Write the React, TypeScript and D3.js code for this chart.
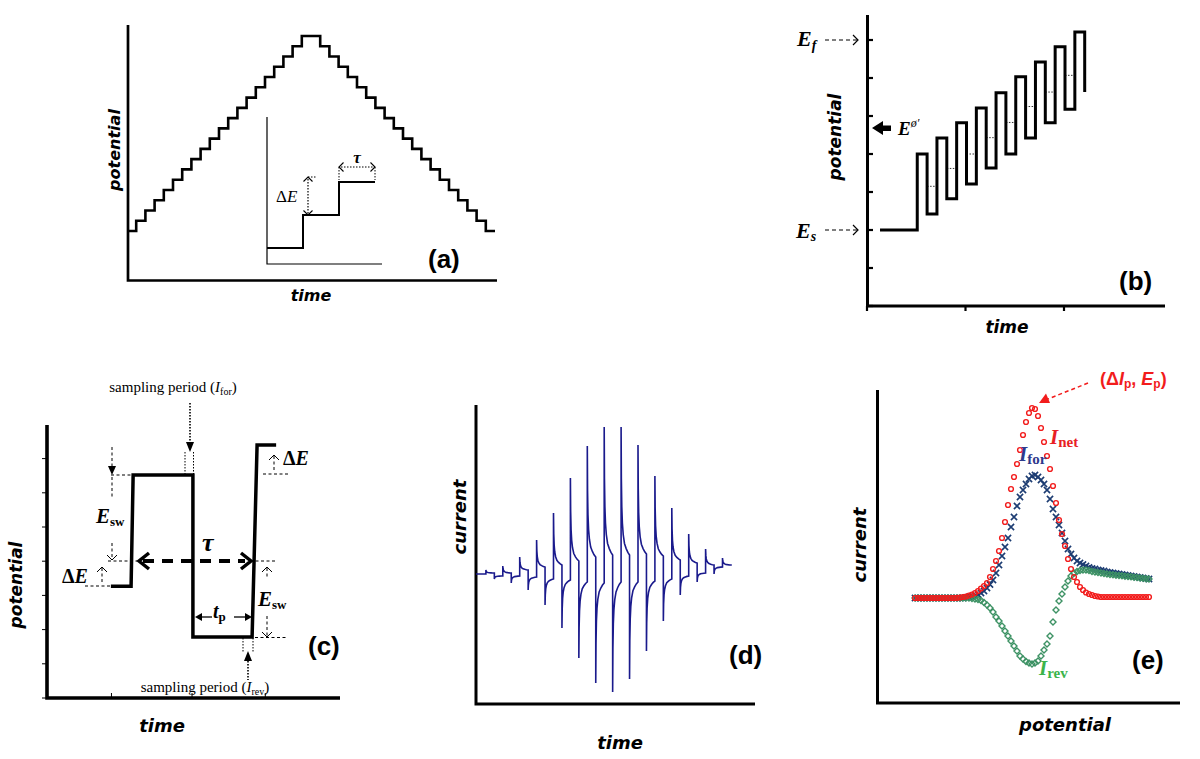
import React from "react";
import * as d3 from "d3";

// ---------------- (a) linear staircase ramp ----------------
const rampLevels = [0,1,2,3,4,5,6,7,8,9,10,11,12,13,14,15,16,17,18,19,19,18,17,16,15,14,13,12,11,10,9,8,7,6,5,4,3,2,1,0,0];
const insetLevels = [0, 1, 2, 2];

// ---------------- (b) square wave on a staircase ----------------
const bStartLevel = 2; // E_s
const bTops = [4.0, 4.42, 4.82, 5.21, 5.61, 6.03, 6.42, 6.82, 7.21];
const bBottoms = [2.42, 2.82, 3.21, 3.63, 4.0, 4.42, 4.82, 5.18, 5.63];
const bMids = [3.15, 3.62, 4.0, 4.43, 4.83, 5.25, 5.63, 6.07];
const bTicksY = [0, 1, 2, 3, 4, 5, 6, 7];
const bTicksX = [0, 10, 20];

// ---------------- (c) one square-wave cycle ----------------
const cWaveT = [2.18, 2.87, 2.94, 4.98, 4.98, 7.0, 7.17, 7.82];
const cWaveV = [3.27, 3.27, 6.52, 6.52, 1.78, 1.78, 7.4, 7.4];
const cTicksY = [0, 1, 2, 3, 4, 5, 6, 7];
const cTicksX = [2.2, 4.95, 7.45];

// ---------------- (d) current response ----------------
const dUpPeaks = [0.4, 0.8, 1.7, 3.4, 6.1, 9.6, 12.8, 14.7, 14.7, 12.9, 9.8, 6.6, 4.0, 2.5, 1.6];
const dUpLevels = [0.1, 0.1, 0.4, 0.7, 0.9, 1.3, 1.7, 1.9, 1.9, 2.0, 1.8, 1.4, 1.1, 0.9, 0.9];
const dDownPeaks = [-0.5, -0.9, -1.6, -3.1, -5.4, -8.4, -10.9, -11.8, -10.5, -7.7, -4.7, -2.1, -0.8, 0.0];
const dDownLevels = [-0.2, -0.2, -0.3, -0.5, -0.6, -0.8, -0.9, -0.8, -0.8, -0.7, -0.5, -0.2, 0.1, 0.7];
const decayShape: [number, number][] = [[0, 1], [0.03, 0.6], [0.08, 0.38], [0.15, 0.25], [0.25, 0.16], [0.4, 0.09], [0.6, 0.05], [0.8, 0.02], [1, 0]];

// ---------------- (e) voltammogram ----------------
const eNet = [0,0,0,0,0,0,0,0,0,0,
  0,0,0,0,0.02,0.05,0.1,0.15,0.25,0.35,
  0.5,0.7,0.95,1.2,1.5,2.1,2.9,3.7,4.7,6.0,
  7.6,9.3,10.9,12.1,13.4,14.8,16.3,17.6,18.5,19.0,
  18.9,18.2,17.0,15.6,14.2,12.9,11.2,9.5,7.8,6.4,
  5.2,3.9,2.9,2.1,1.6,1.1,0.8,0.55,0.4,0.3,
  0.2,0.15,0.1,0.1,0.1,0.1,0.1,0.1,0.1,0.1,
  0.1,0.1,0.1,0.1,0.1,0.1,0.1,0.1,0.1];
const eFor = [0,0,0,0,0,0,0,0,0,0,
  0,0,0,0,0,0,0,0.05,0.1,0.15,
  0.25,0.35,0.5,0.7,1.0,1.35,1.8,2.5,3.3,4.2,
  5.1,6.0,7.1,8.1,9.2,10.1,10.8,11.4,11.9,12.2,
  12.3,12.1,11.8,11.4,10.8,9.9,8.9,8.1,7.3,6.5,
  5.7,4.9,4.4,4.0,3.7,3.5,3.35,3.2,3.05,2.95,
  2.9,2.8,2.75,2.7,2.6,2.55,2.5,2.45,2.4,2.35,
  2.3,2.25,2.2,2.15,2.1,2.05,2.0,1.95,1.9];
const eRev = [0,0,0,0,0,0,0,0,0,0,
  0,0,0,0,0,0,0,0,0,-0.05,
  -0.1,-0.15,-0.25,-0.45,-0.7,-1.0,-1.4,-1.9,-2.3,-2.8,
  -3.3,-3.8,-4.3,-4.8,-5.3,-5.8,-6.1,-6.35,-6.5,-6.6,
  -6.5,-6.3,-5.8,-5.2,-4.6,-3.8,-2.4,-1.2,-0.3,0.4,
  1.1,1.7,2.2,2.5,2.65,2.75,2.8,2.8,2.75,2.65,
  2.6,2.55,2.5,2.45,2.4,2.35,2.32,2.28,2.25,2.22,
  2.18,2.15,2.12,2.08,2.04,2.0,1.97,1.93,1.9];

const SANS_BI: any = { fontFamily: "DejaVu Sans", fontWeight: "bold", fontStyle: "italic" };
const SERIF = "Liberation Serif";
const LBL: any = { fontFamily: "Liberation Sans", fontWeight: "bold", fontSize: 26 };

type Dir = "up" | "down" | "left" | "right";
function OpenHead({ x, y, dir, s = 4, w = 1, color = "#000" }: { x: number; y: number; dir: Dir; s?: number; w?: number; color?: string }) {
  let p = "";
  if (dir === "right") p = `${x - s},${y - s} ${x},${y} ${x - s},${y + s}`;
  if (dir === "left") p = `${x + s},${y - s} ${x},${y} ${x + s},${y + s}`;
  if (dir === "up") p = `${x - s},${y + s} ${x},${y} ${x + s},${y + s}`;
  if (dir === "down") p = `${x - s},${y - s} ${x},${y} ${x + s},${y - s}`;
  return <polyline points={p} fill="none" stroke={color} strokeWidth={w} />;
}
function FilledHead({ x, y, dir, l = 8, h = 4, color = "#000" }: { x: number; y: number; dir: Dir; l?: number; h?: number; color?: string }) {
  let p = "";
  if (dir === "right") p = `${x - l},${y - h} ${x},${y} ${x - l},${y + h}`;
  if (dir === "left") p = `${x + l},${y - h} ${x},${y} ${x + l},${y + h}`;
  if (dir === "up") p = `${x - h},${y + l} ${x},${y} ${x + h},${y + l}`;
  if (dir === "down") p = `${x - h},${y - l} ${x},${y} ${x + h},${y - l}`;
  return <polygon points={p} fill={color} />;
}
function RotLabel({ x, y, text, size }: { x: number; y: number; text: string; size: number }) {
  return (
    <text transform={`translate(${x},${y}) rotate(-90)`} textAnchor="middle" fontSize={size} {...SANS_BI}>
      {text}
    </text>
  );
}

function PanelA() {
  const x = d3.scaleLinear().domain([0, 40]).range([127, 495]);
  const y = d3.scaleLinear().domain([0, 19]).range([231, 36]);
  const line = d3.line<[number, number]>().x((d) => x(d[0])).y((d) => y(d[1])).curve(d3.curveStepAfter);
  const xi = d3.scaleLinear().domain([0, 3]).range([267, 375]);
  const yi = d3.scaleLinear().domain([0, 2]).range([248, 182]);
  const lineI = d3.line<[number, number]>().x((d) => xi(d[0])).y((d) => yi(d[1])).curve(d3.curveStepAfter);
  const dot = "1.5 1.5";
  return (
    <g>
      <path d="M128,25V280.5H497" fill="none" stroke="#000" strokeWidth={2.7} />
      <path d={line(rampLevels.map((v, i) => [i, v]) as any) || ""} fill="none" stroke="#000" strokeWidth={2.6} />
      {/* inset */}
      <path d="M267,117V264H382" fill="none" stroke="#000" strokeWidth={1.2} />
      <path d={lineI(insetLevels.map((v, i) => [i, v]) as any) || ""} fill="none" stroke="#000" strokeWidth={2} />
      <line x1={308} y1={179} x2={308} y2={214} stroke="#000" strokeWidth={1.2} strokeDasharray={dot} />
      <line x1={308} y1={177} x2={316} y2={177} stroke="#000" strokeWidth={1} strokeDasharray={dot} />
      <OpenHead x={308} y={177} dir="up" s={4.5} w={1.1} />
      <OpenHead x={308} y={215} dir="down" s={4.5} w={1.1} />
      <text x={276} y={202} fontFamily={SERIF} fontSize={17}>
        Δ<tspan fontStyle="italic">E</tspan>
      </text>
      <line x1={341} y1={167} x2={373} y2={167} stroke="#000" strokeWidth={1.2} strokeDasharray={dot} />
      <line x1={339} y1={167} x2={339} y2={180} stroke="#000" strokeWidth={1} strokeDasharray={dot} />
      <line x1={375} y1={167} x2={375} y2={180} stroke="#000" strokeWidth={1} strokeDasharray={dot} />
      <OpenHead x={339} y={167} dir="left" s={4.5} w={1.1} />
      <OpenHead x={375} y={167} dir="right" s={4.5} w={1.1} />
      <text x={357} y={163} textAnchor="middle" fontFamily={SERIF} fontStyle="italic" fontWeight="bold" fontSize={17}>τ</text>
      <RotLabel x={120} y={150} text="potential" size={16} />
      <text x={311} y={301} textAnchor="middle" fontSize={16} {...SANS_BI}>time</text>
      <text x={428} y={268} {...LBL}>(a)</text>
    </g>
  );
}

function PanelB() {
  const x = d3.scaleLinear().domain([0, 20]).range([868, 1065]);
  const y = d3.scaleLinear().domain([0, 7]).range([306, 40]);
  const pts: [number, number][] = [[1.22, bStartLevel], [5, bStartLevel]];
  bTops.forEach((top, k) => {
    const u = 5 + 2 * k;
    pts.push([u, top], [u + 1, top], [u + 1, bBottoms[k]]);
    if (k < bTops.length - 1) pts.push([u + 2, bBottoms[k]]);
  });
  const line = d3.line<[number, number]>().x((d) => x(d[0])).y((d) => y(d[1]));
  return (
    <g>
      <path d="M867.5,15V306H1165" fill="none" stroke="#000" strokeWidth={3} />
      {bTicksY.map((t) => (
        <line key={t} x1={867} x2={873} y1={y(t)} y2={y(t)} stroke="#000" strokeWidth={2.2} />
      ))}
      {bTicksX.map((t) => (
        <line key={t} x1={x(t) - 1} x2={x(t) - 1} y1={306} y2={311} stroke="#000" strokeWidth={2.2} />
      ))}
      {bMids.map((m, k) => (
        <line key={k} x1={x(6 + 2 * k)} x2={x(7 + 2 * k)} y1={y(m)} y2={y(m)} stroke="#333" strokeWidth={1} strokeDasharray="1.5 1.5" />
      ))}
      <path d={line(pts) || ""} fill="none" stroke="#000" strokeWidth={3} strokeLinejoin="miter" />
      {/* E_f / E_s arrows */}
      <line x1={825} x2={857} y1={y(7)} y2={y(7)} stroke="#000" strokeWidth={1.2} strokeDasharray="4 3" />
      <OpenHead x={858} y={y(7)} dir="right" s={5} w={1.2} />
      <line x1={825} x2={857} y1={y(bStartLevel)} y2={y(bStartLevel)} stroke="#000" strokeWidth={1.2} strokeDasharray="4 3" />
      <OpenHead x={858} y={y(bStartLevel)} dir="right" s={5} w={1.2} />
      <text x={797} y={46} fontFamily={SERIF} fontWeight="bold" fontStyle="italic" fontSize={22}>
        E<tspan fontSize={14} dy={4}>f</tspan>
      </text>
      <text x={796} y={238} fontFamily={SERIF} fontWeight="bold" fontStyle="italic" fontSize={22}>
        E<tspan fontSize={14} dy={3}>s</tspan>
      </text>
      {/* E0' arrow */}
      <polygon points="872,128 883,121 883,125.5 891,125.5 891,131 883,131 883,135" fill="#000" />
      <text x={898} y={135} fontFamily={SERIF} fontWeight="bold" fontStyle="italic" fontSize={19}>
        E<tspan fontSize={12} dy={-8} fontWeight="normal">ø′</tspan>
      </text>
      <RotLabel x={841} y={137} text="potential" size={17} />
      <text x={1007} y={333} textAnchor="middle" fontSize={17} {...SANS_BI}>time</text>
      <text x={1119} y={290} {...LBL}>(b)</text>
    </g>
  );
}

function PanelC() {
  const x = d3.scaleLinear().domain([0, 10]).range([47, 340]);
  const y = d3.scaleLinear().domain([0, 8]).range([698, 424.4]);
  const line = d3.line<number>().x((d, i) => x(cWaveT[i])).y((d) => y(d));
  const dash = "3 2.5";
  const dot = "1.5 1.5";
  const sub = { fontFamily: SERIF, fontWeight: "bold" } as any;
  return (
    <g>
      <path d="M47,425V698H340" fill="none" stroke="#000" strokeWidth={3.6} />
      {cTicksY.map((t) => (
        <line key={t} x1={42} x2={47} y1={y(t)} y2={y(t)} stroke="#000" strokeWidth={1} />
      ))}
      {cTicksX.map((t) => (
        <line key={t} x1={x(t)} x2={x(t)} y1={693} y2={698} stroke="#000" strokeWidth={1} />
      ))}
      <path d={line(cWaveV) || ""} fill="none" stroke="#000" strokeWidth={3.5} />
      {/* sampling period (I_for) */}
      <text x={173} y={392} textAnchor="middle" fontFamily={SERIF} fontSize={15}>
        sampling period (<tspan fontStyle="italic">I</tspan>
        <tspan fontSize={10} dy={3}>for</tspan>
        <tspan dy={-3}>)</tspan>
      </text>
      <line x1={190} x2={190} y1={403} y2={442} stroke="#000" strokeWidth={1.6} strokeDasharray={dot} />
      <FilledHead x={190} y={452} dir="down" l={10} h={4} />
      <line x1={185} x2={185} y1={452} y2={474} stroke="#000" strokeWidth={1} strokeDasharray={dot} />
      <line x1={193.5} x2={193.5} y1={452} y2={474} stroke="#000" strokeWidth={1} strokeDasharray={dot} />
      {/* left E_sw */}
      <line x1={112} x2={112} y1={447} y2={466} stroke="#000" strokeWidth={1} strokeDasharray={dash} />
      <FilledHead x={112} y={475} dir="down" l={9} h={4} />
      <line x1={112} x2={112} y1={477} y2={497} stroke="#000" strokeWidth={1} strokeDasharray={dash} />
      <line x1={111} x2={133} y1={475} y2={475} stroke="#000" strokeWidth={1} strokeDasharray={dash} />
      <text x={96} y={523} fontFamily={SERIF} fontWeight="bold" fontStyle="italic" fontSize={21}>
        E<tspan {...sub} fontStyle="normal" fontSize={13} dy={3}>sw</tspan>
      </text>
      <line x1={112} x2={112} y1={543} y2={559} stroke="#000" strokeWidth={1} strokeDasharray={dash} />
      <OpenHead x={112} y={560} dir="down" s={5} w={1} />
      <line x1={108} x2={137} y1={561} y2={561} stroke="#000" strokeWidth={1} strokeDasharray={dash} />
      {/* left dE */}
      <text x={62} y={583} fontFamily={SERIF} fontWeight="bold" fontSize={20}>
        Δ<tspan fontStyle="italic">E</tspan>
      </text>
      <line x1={102} x2={102} y1={568} y2={584} stroke="#000" strokeWidth={1} strokeDasharray={dash} />
      <OpenHead x={102} y={567} dir="up" s={5} w={1} />
      <line x1={85} x2={112} y1={586} y2={586} stroke="#000" strokeWidth={1} strokeDasharray={dash} />
      {/* tau */}
      <line x1={143} x2={245} y1={561} y2={561} stroke="#000" strokeWidth={4} strokeDasharray="11 8" />
      <polyline points="149,553 139,561 149,569" fill="none" stroke="#000" strokeWidth={3.5} />
      <polyline points="241,553 251,561 241,569" fill="none" stroke="#000" strokeWidth={3.5} />
      <text x={202} y={551} fontFamily={SERIF} fontWeight="bold" fontStyle="italic" fontSize={26}>τ</text>
      <line x1={250} x2={276} y1={561} y2={561} stroke="#000" strokeWidth={1} strokeDasharray={dash} />
      {/* right E_sw */}
      <line x1={267} x2={267} y1={568} y2={579} stroke="#000" strokeWidth={1} strokeDasharray={dash} />
      <OpenHead x={267} y={567} dir="up" s={5} w={1} />
      <text x={258} y={606} fontFamily={SERIF} fontWeight="bold" fontStyle="italic" fontSize={21}>
        E<tspan {...sub} fontStyle="normal" fontSize={13} dy={3}>sw</tspan>
      </text>
      <line x1={267} x2={267} y1={616} y2={636} stroke="#000" strokeWidth={1} strokeDasharray={dash} />
      <OpenHead x={267} y={637} dir="down" s={5} w={1} />
      <line x1={255} x2={286} y1={637.5} y2={637.5} stroke="#000" strokeWidth={1} strokeDasharray={dash} />
      {/* t_p */}
      <line x1={198} x2={212} y1={617} y2={617} stroke="#000" strokeWidth={1.3} />
      <FilledHead x={195} y={617} dir="left" l={7} h={4} />
      <text x={213} y={618} fontFamily={SERIF} fontWeight="bold" fontStyle="italic" fontSize={20}>
        t<tspan {...sub} fontStyle="normal" fontSize={13} dy={3}>p</tspan>
      </text>
      <line x1={234} x2={246} y1={617} y2={617} stroke="#000" strokeWidth={1.3} />
      <FilledHead x={252} y={617} dir="right" l={7} h={4} />
      {/* right dE */}
      <line x1={274} x2={274} y1={456} y2={471} stroke="#000" strokeWidth={1} strokeDasharray={dash} />
      <OpenHead x={274} y={455} dir="up" s={5} w={1} />
      <text x={283} y={465} fontFamily={SERIF} fontWeight="bold" fontSize={20}>
        Δ<tspan fontStyle="italic">E</tspan>
      </text>
      <line x1={263} x2={289} y1={474} y2={474} stroke="#000" strokeWidth={1} strokeDasharray={dash} />
      {/* sampling period (I_rev) */}
      <line x1={243} x2={243} y1={638} y2={653} stroke="#000" strokeWidth={1} strokeDasharray={dot} />
      <line x1={253} x2={253} y1={638} y2={653} stroke="#000" strokeWidth={1} strokeDasharray={dot} />
      <FilledHead x={248} y={651} dir="up" l={10} h={4} />
      <line x1={248} x2={248} y1={661} y2={680} stroke="#000" strokeWidth={1.6} strokeDasharray={dot} />
      <text x={205} y={692} textAnchor="middle" fontFamily={SERIF} fontSize={15}>
        sampling period (<tspan fontStyle="italic">I</tspan>
        <tspan fontSize={10} dy={3}>rev</tspan>
        <tspan dy={-3}>)</tspan>
      </text>
      <RotLabel x={22} y={585} text="potential" size={17} />
      <text x={162} y={732} textAnchor="middle" fontSize={18} {...SANS_BI}>time</text>
      <text x={308} y={655} {...LBL}>(c)</text>
    </g>
  );
}

function PanelD() {
  const x = d3.scaleLinear().domain([0, 33]).range([469, 747.85]);
  const y = d3.scaleLinear().domain([-13, 16.9]).range([704, 405]);
  const pts: [number, number][] = [[0.83, 0], [2, 0]];
  let prev = 0;
  const addSpike = (u: number, from: number, peak: number, level: number) => {
    pts.push([u, from]);
    decayShape.forEach(([dt, f]) => pts.push([u + dt, level + (peak - level) * f]));
  };
  dUpPeaks.forEach((p, k) => {
    const u = 2 + 2 * k;
    addSpike(u, prev, p, dUpLevels[k]);
    prev = dUpLevels[k];
    if (k < dDownPeaks.length) {
      addSpike(u + 1, prev, dDownPeaks[k], dDownLevels[k]);
      prev = dDownLevels[k];
    }
  });
  pts.push([31.1, prev]);
  const line = d3.line<[number, number]>().x((d) => x(d[0])).y((d) => y(d[1]));
  return (
    <g>
      <path d="M476,405V704H755" fill="none" stroke="#000" strokeWidth={3} />
      <path d={line(pts) || ""} fill="none" stroke="#1a1a8c" strokeWidth={1.6} />
      <RotLabel x={466} y={517} text="current" size={18} />
      <text x={620} y={749} textAnchor="middle" fontSize={18} {...SANS_BI}>time</text>
      <text x={729} y={664} {...LBL}>(d)</text>
    </g>
  );
}

function PanelE() {
  const x = d3.scaleLinear().domain([0, eNet.length - 1]).range([915, 1149]);
  const y = d3.scaleLinear().domain([-10.5, 20.8]).range([703, 390]);
  const red = "#f21c1c";
  const blue = "#1c3c72";
  const green = "#3d9264";
  return (
    <g>
      <path d="M877.5,390V703H1180" fill="none" stroke="#000" strokeWidth={3} />
      {eFor.map((v, i) => {
        const cx = x(i), cy = y(v), s = 3.1;
        return <path key={"f" + i} d={`M${cx - s},${cy - s}L${cx + s},${cy + s}M${cx - s},${cy + s}L${cx + s},${cy - s}`} stroke={blue} strokeWidth={1.6} />;
      })}
      {eRev.map((v, i) => {
        const cx = x(i), cy = y(v), s = 3.0;
        return <path key={"r" + i} d={`M${cx},${cy - s}L${cx + s},${cy}L${cx},${cy + s}L${cx - s},${cy}Z`} fill="none" stroke={green} strokeWidth={1.4} />;
      })}
      {eNet.map((v, i) => (
        <circle key={"n" + i} cx={x(i)} cy={y(v)} r={2.4} fill="none" stroke={red} strokeWidth={1.4} />
      ))}
      <text x={1050} y={444} fill="#e81e25" fontFamily={SERIF} fontWeight="bold" fontStyle="italic" fontSize={21}>
        I<tspan fontStyle="normal" fontSize={15} dy={3}>net</tspan>
      </text>
      <text x={1019} y={461} fill="#2e3a8c" fontFamily={SERIF} fontWeight="bold" fontStyle="italic" fontSize={21}>
        I<tspan fontStyle="normal" fontSize={15} dy={3}>for</tspan>
      </text>
      <text x={1039} y={675} fill="#3cb44b" fontFamily={SERIF} fontWeight="bold" fontStyle="italic" fontSize={21}>
        I<tspan fontStyle="normal" fontSize={15} dy={3}>rev</tspan>
      </text>
      <line x1={1088} y1={383} x2={1048} y2={399} stroke={red} strokeWidth={1.5} strokeDasharray="4 3" />
      <polygon points="1039,403 1046,393.5 1050,403" fill={red} />
      <text x={1100} y={385} fill={red} fontFamily="Liberation Sans" fontWeight="bold" fontSize={18}>
        (Δ<tspan fontStyle="italic">I</tspan>
        <tspan fontSize={12} dy={3}>p</tspan>
        <tspan dy={-3}>,  </tspan>
        <tspan fontStyle="italic">E</tspan>
        <tspan fontSize={12} dy={3}>p</tspan>
        <tspan dy={-3}>)</tspan>
      </text>
      <RotLabel x={866} y={545} text="current" size={18} />
      <text x={1065} y={731} textAnchor="middle" fontSize={18} {...SANS_BI}>potential</text>
      <text x={1132} y={669} {...LBL}>(e)</text>
    </g>
  );
}

export default function App() {
  return (
    <div style={{ position: "absolute", left: 0, top: 0 }}>
      <svg width={1200} height={759} viewBox="0 0 1200 759" style={{ display: "block", background: "#fff" }}>
        <rect width={1200} height={759} fill="#fff" />
        <PanelA />
        <PanelB />
        <PanelC />
        <PanelD />
        <PanelE />
      </svg>
    </div>
  );
}
